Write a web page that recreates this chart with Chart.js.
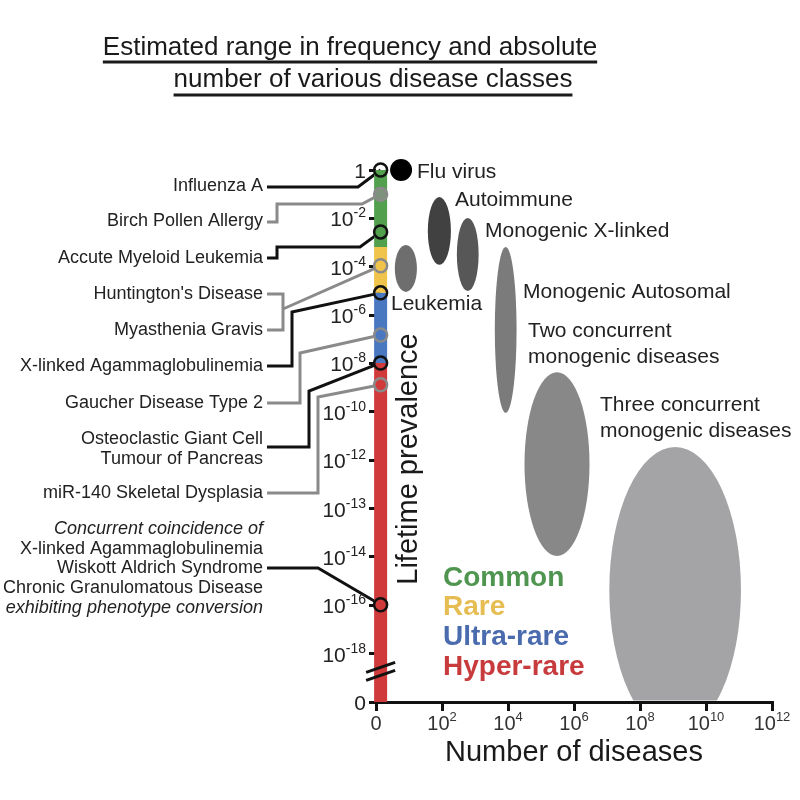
<!DOCTYPE html>
<html>
<head>
<meta charset="utf-8">
<script src="https://cdn.jsdelivr.net/npm/chart.js@4"></script>
<style>
  html, body { margin: 0; padding: 0; background: #fff; }
</style>
</head>
<body>
<canvas id="chart" width="800" height="800"></canvas>
<script>
// y = position on the broken prevalence axis (0 = "0", 11 = "1")
// x = log10 of the number of diseases
// tick labels: [base, exponent]
const yTickLabels = [['0', ''], ['10', '-18'], ['10', '-16'], ['10', '-14'], ['10', '-13'], ['10', '-12'],
    ['10', '-10'], ['10', '-8'], ['10', '-6'], ['10', '-4'], ['10', '-2'], ['1', '']];
const xTickValues = [0, 2, 4, 6, 8, 10, 12];
const xTickLabels = [['0', ''], ['10', '2'], ['10', '4'], ['10', '6'], ['10', '8'], ['10', '10'], ['10', '12']];

const classNames = ['Common', 'Rare', 'Ultra-rare', 'Hyper-rare'];
const classTop = [11, 9.41, 8.46, 7.01];
const classBottom = [9.41, 8.46, 7.01, 0];

const diseaseNames = ['Influenza A', 'Birch Pollen Allergy', 'Accute Myeloid Leukemia', "Huntington's Disease / Myasthenia Gravis",
    'X-linked Agammaglobulinemia', 'Gaucher Disease Type 2', 'Osteoclastic Giant Cell Tumour of Pancreas',
    'miR-140 Skeletal Dysplasia', 'Concurrent coincidence'];
const diseasePrevalence = [11, 10.5, 9.72, 9.02, 8.46, 7.59, 7.01, 6.56, 2.01];
const diseaseCount = 0.14;

const fluCount = 0.76;
const fluPrevalence = 11;

const groupNames = ['Leukemia', 'Autoimmune', 'Monogenic X-linked', 'Monogenic Autosomal',
    'Two concurrent monogenic diseases', 'Three concurrent monogenic diseases'];
const groupXMin = [0.57, 1.57, 2.45, 3.60, 4.50, 7.07];
const groupXMax = [1.24, 2.27, 3.11, 4.26, 6.47, 11.06];
const groupYMin = [8.48, 9.04, 8.50, 5.98, 3.02, -0.64];
const groupYMax = [9.45, 10.44, 10.01, 9.41, 6.82, 5.27];

// styles
const FONT = "'Liberation Sans', Arial, sans-serif";
const BLACK = '#111';
const GRAY = '#8a8a8a';
const classColors = ['#52a04e', '#f0c44a', '#4a78c0', '#d03a3a'];
const legendColors = ['#4f9550', '#e6bd52', '#4a6cae', '#c83b3d'];
const groupColors = ['#6e6e6e', '#414141', '#575757', '#7b7b7b', '#888888', '#a4a4a6'];
const markerBorders = [BLACK, GRAY, BLACK, GRAY, BLACK, GRAY, BLACK, GRAY, BLACK];
const markerFills = ['rgba(0,0,0,0)', 'rgba(140,140,140,0.75)', 'rgba(0,0,0,0)', 'rgba(0,0,0,0)',
    'rgba(0,0,0,0)', 'rgba(0,0,0,0)', 'rgba(0,0,0,0)', 'rgba(0,0,0,0)', 'rgba(0,0,0,0)'];

// label layout (pixels) for the left side callouts
const leftLabels = [
    { t: 'Influenza A', y: 186 },
    { t: 'Birch Pollen Allergy', y: 221 },
    { t: 'Accute Myeloid Leukemia', y: 258 },
    { t: "Huntington's Disease", y: 294 },
    { t: 'Myasthenia Gravis', y: 330 },
    { t: 'X-linked Agammaglobulinemia', y: 366 },
    { t: 'Gaucher Disease Type 2', y: 403 },
    { t: 'Osteoclastic Giant Cell', y: 439 },
    { t: 'Tumour of Pancreas', y: 459 },
    { t: 'miR-140 Skeletal Dysplasia', y: 493 },
    { t: 'Concurrent coincidence of', y: 529, i: true },
    { t: 'X-linked Agammaglobulinemia', y: 549 },
    { t: 'Wiskott Aldrich Syndrome', y: 568 },
    { t: 'Chronic Granulomatous Disease', y: 588 },
    { t: 'exhibiting phenotype conversion', y: 608, i: true }
];
const connectors = [
    { m: 0, c: BLACK, pts: [[267, 187], [358, 187]] },
    { m: 1, c: GRAY, pts: [[267, 222], [277, 222], [277, 204], [362, 204]] },
    { m: 2, c: BLACK, pts: [[267, 258], [277, 258], [277, 247], [360, 247]] },
    { m: 3, c: GRAY, pts: [[283, 309]], extra: [[267, 294], [283, 294], [283, 330], [267, 330]] },
    { m: 4, c: BLACK, pts: [[267, 366], [292, 366], [292, 312]] },
    { m: 5, c: GRAY, pts: [[267, 403], [300, 403], [300, 353]] },
    { m: 6, c: BLACK, pts: [[267, 447], [309, 447], [309, 391]] },
    { m: 7, c: GRAY, pts: [[267, 493], [318, 493], [318, 397]] },
    { m: 8, c: BLACK, pts: [[267, 568], [318, 568]] }
];
const groupLabels = [
    { t: 'Flu virus', x: 417, y: 172 },
    { t: 'Autoimmune', x: 455, y: 200 },
    { t: 'Monogenic X-linked', x: 485, y: 231 },
    { t: 'Leukemia', x: 391, y: 304 },
    { t: 'Monogenic Autosomal', x: 523, y: 292 },
    { t: 'Two concurrent', x: 528, y: 331 },
    { t: 'monogenic diseases', x: 528, y: 357 },
    { t: 'Three concurrent', x: 600, y: 405 },
    { t: 'monogenic diseases', x: 600, y: 431 }
];

function strokePath(ctx, pts, color) {
    ctx.beginPath();
    pts.forEach((p, i) => i ? ctx.lineTo(p[0], p[1]) : ctx.moveTo(p[0], p[1]));
    ctx.strokeStyle = color;
    ctx.stroke();
}

// draws "base^exp" with left edge at x, base baseline at y
function powerText(ctx, lab, x, y, baseSize, expSize, rise) {
    ctx.font = baseSize + 'px ' + FONT;
    const bw = ctx.measureText(lab[0]).width;
    ctx.fillText(lab[0], x, y);
    if (lab[1]) {
        ctx.font = expSize + 'px ' + FONT;
        ctx.fillText(lab[1], x + bw, y - rise);
    }
}
function powerWidth(ctx, lab, baseSize, expSize) {
    ctx.font = baseSize + 'px ' + FONT;
    let w = ctx.measureText(lab[0]).width;
    if (lab[1]) {
        ctx.font = expSize + 'px ' + FONT;
        w += ctx.measureText(lab[1]).width;
    }
    return w;
}

const overlay = {
    id: 'overlay',
    beforeDatasetsDraw(chart) {
        const { ctx, chartArea: a, scales: { x, y } } = chart;
        ctx.save();
        ctx.beginPath();
        ctx.rect(a.left, a.top - 20, a.right - a.left + 20, a.bottom - a.top + 18.5);
        ctx.clip();
        groupNames.forEach((n, i) => {
            const x0 = x.getPixelForValue(groupXMin[i]), x1 = x.getPixelForValue(groupXMax[i]);
            const y0 = y.getPixelForValue(groupYMin[i]), y1 = y.getPixelForValue(groupYMax[i]);
            ctx.beginPath();
            ctx.ellipse((x0 + x1) / 2, (y0 + y1) / 2, (x1 - x0) / 2, Math.abs(y0 - y1) / 2, 0, 0, Math.PI * 2);
            ctx.fillStyle = groupColors[i];
            ctx.fill();
        });
        ctx.restore();

        ctx.save();
        ctx.lineWidth = 3;
        ctx.lineJoin = 'miter';
        ctx.lineCap = 'butt';
        connectors.forEach(cn => {
            const mx = x.getPixelForValue(diseaseCount);
            const my = y.getPixelForValue(diseasePrevalence[cn.m]);
            strokePath(ctx, cn.pts.concat([[mx, my]]), cn.c);
            if (cn.extra) strokePath(ctx, cn.extra, cn.c);
        });
        ctx.restore();
    },
    afterDatasetsDraw(chart) {
        const { ctx, scales: { x, y } } = chart;
        // axis break marks on the prevalence bar
        const cx = x.getPixelForValue(diseaseCount);
        const cy = y.getPixelForValue(0.57);
        ctx.save();
        ctx.lineWidth = 3;
        strokePath(ctx, [[cx - 14.5, cy - 2], [cx + 14.5, cy - 12]], BLACK);
        strokePath(ctx, [[cx - 14.5, cy + 6], [cx + 14.5, cy - 4]], BLACK);
        ctx.restore();
    },
    afterDraw(chart) {
        const { ctx, scales: { x, y } } = chart;
        ctx.save();
        ctx.fillStyle = '#1a1a1a';

        // tick labels with superscripts
        ctx.textAlign = 'left';
        ctx.textBaseline = 'alphabetic';
        ctx.fillStyle = '#222';
        yTickLabels.forEach((lab, v) => {
            const py = y.getPixelForValue(v);
            const w = powerWidth(ctx, lab, 21, 14);
            powerText(ctx, lab, 366 - w, py + 8, 21, 14, 9);
        });
        ctx.fillStyle = '#333';
        xTickValues.forEach((v, i) => {
            const px = x.getPixelForValue(v);
            const lab = xTickLabels[i];
            const w = powerWidth(ctx, lab, 20, 13);
            powerText(ctx, lab, px - w / 2, 730, 20, 13, 9);
        });

        // title
        ctx.fillStyle = '#1a1a1a';
        ctx.font = '26px ' + FONT;
        ctx.textAlign = 'center';
        [['Estimated range in frequency and absolute', 350, 55, 62], ['number of various disease classes', 373, 87, 95]].forEach(l => {
            ctx.fillText(l[0], l[1], l[2]);
            const w = ctx.measureText(l[0]).width;
            ctx.fillRect(l[1] - w / 2, l[3] - 1.5, w, 3);
        });

        // left callout labels
        ctx.textAlign = 'right';
        ctx.textBaseline = 'middle';
        ctx.fillStyle = '#222';
        leftLabels.forEach(l => {
            ctx.font = (l.i ? 'italic ' : '') + '18px ' + FONT;
            ctx.fillText(l.t, 263, l.y);
        });

        // group labels
        ctx.textAlign = 'left';
        ctx.font = '21px ' + FONT;
        groupLabels.forEach(l => ctx.fillText(l.t, l.x, l.y));

        // class legend
        ctx.font = 'bold 28px ' + FONT;
        classNames.forEach((n, i) => {
            ctx.fillStyle = legendColors[i];
            ctx.fillText(n, 443, 578 + i * 29.7);
        });

        // y axis title inside the plot
        ctx.fillStyle = '#1a1a1a';
        ctx.translate(409, 459);
        ctx.rotate(-Math.PI / 2);
        ctx.textAlign = 'center';
        ctx.font = '29px ' + FONT;
        ctx.fillText('Lifetime prevalence', 0, 0);
        ctx.restore();
    }
};

Chart.defaults.font.family = FONT;

const datasets = [
    {
        type: 'scatter',
        label: 'Diseases',
        data: diseasePrevalence.map(v => ({ x: diseaseCount, y: v })),
        pointRadius: 6.5,
        pointBorderWidth: 2.5,
        pointBorderColor: markerBorders,
        pointBackgroundColor: markerFills,
        showLine: false,
        clip: false,
        order: 0
    },
    {
        type: 'scatter',
        label: 'Flu virus',
        data: [{ x: fluCount, y: fluPrevalence }],
        pointRadius: 11,
        pointBorderWidth: 0,
        pointBackgroundColor: '#000',
        showLine: false,
        clip: false,
        order: 0
    }
].concat(classNames.map((n, i) => ({
    type: 'line',
    label: n,
    data: [{ x: diseaseCount, y: classTop[i] }, { x: diseaseCount, y: classBottom[i] }],
    borderColor: classColors[i],
    borderWidth: 13,
    borderCapStyle: 'butt',
    pointRadius: 0,
    showLine: true,
    clip: false,
    order: 2
})));

new Chart(document.getElementById('chart'), {
    type: 'scatter',
    data: { datasets },
    options: {
        responsive: false,
        animation: false,
        layout: { padding: { top: 170, right: 28, left: 0, bottom: 0 } },
        plugins: { legend: { display: false }, tooltip: { enabled: false } },
        scales: {
            x: {
                type: 'linear',
                min: 0,
                max: 12,
                afterFit(s) { s.height = 98; },
                ticks: {
                    stepSize: 2,
                    autoSkip: false,
                    maxRotation: 0,
                    padding: 2,
                    color: 'rgba(0,0,0,0)',
                    font: { size: 20 },
                    callback: v => xTickLabels[xTickValues.indexOf(v)].join('')
                },
                grid: { drawOnChartArea: false, tickLength: 9, tickColor: BLACK, lineWidth: 3 },
                border: { color: BLACK, width: 3 },
                title: {
                    display: true,
                    text: 'Number of diseases',
                    color: '#1a1a1a',
                    font: { size: 29 },
                    padding: { top: 0, bottom: 30 }
                }
            },
            y: {
                type: 'linear',
                min: 0,
                max: 11,
                afterFit(s) { s.width = 376; },
                ticks: {
                    stepSize: 1,
                    autoSkip: false,
                    padding: 3,
                    color: 'rgba(0,0,0,0)',
                    font: { size: 21 },
                    callback: v => yTickLabels[v].join('')
                },
                grid: { drawOnChartArea: false, tickLength: 7, tickColor: BLACK, lineWidth: 3 },
                border: { display: false }
            }
        }
    },
    plugins: [overlay]
});
</script>
</body>
</html>
